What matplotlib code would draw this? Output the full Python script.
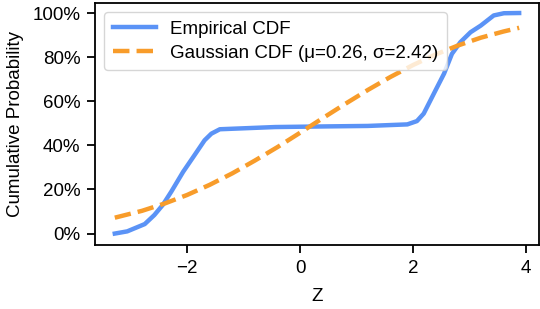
import numpy as np
import matplotlib
matplotlib.use("Agg")
import matplotlib.pyplot as plt
from matplotlib.ticker import PercentFormatter

plt.rcParams['font.family'] = ['Liberation Sans', 'DejaVu Sans']

# empirical CDF
emp_z = [-3.28, -3.06, -2.75, -2.58, -2.43, -2.28, -2.07, -1.87, -1.69, -1.57, -1.42,
         -0.44, 0.5, 1.2, 1.90, 2.07, 2.19, 2.40, 2.55, 2.69, 2.84, 3.02, 3.20,
         3.43, 3.61, 3.88]
emp_p = [0.0, 0.01, 0.043, 0.084, 0.13, 0.19, 0.28, 0.355, 0.423, 0.453, 0.473,
         0.483, 0.486, 0.488, 0.495, 0.51, 0.544, 0.65, 0.725, 0.815, 0.868, 0.913, 0.943,
         0.989, 0.999, 1.0]

# gaussian fit (mu=0.26, sigma=2.42)
gau_z = [-3.28, -2.8, -2.4, -2.0, -1.6, -1.2, -0.8, -0.4, 0.0, 0.4, 0.8, 1.2,
         1.6, 2.0, 2.4, 2.8, 3.2, 3.6, 3.88]
gau_p = [0.072, 0.103, 0.136, 0.175, 0.221, 0.273, 0.331, 0.392, 0.457, 0.523,
         0.588, 0.651, 0.710, 0.764, 0.812, 0.853, 0.888, 0.916, 0.933]

fs = 13.5

fig = plt.figure(figsize=(5.4, 3.09), dpi=100)
ax = fig.add_axes([0.176, 0.207, 0.822, 0.783])

ax.plot(emp_z, emp_p, color='#5b93f6', lw=3.2, label='Empirical CDF')
ax.plot(gau_z, gau_p, color='#f89c2a', lw=3.2, ls='--', label='Gaussian CDF (μ=0.26, σ=2.42)')

ax.set_xlim(-3.63, 4.23)
ax.set_ylim(-0.052, 1.045)
ax.set_xticks([-2, 0, 2, 4])
ax.set_yticks([0, 0.2, 0.4, 0.6, 0.8, 1.0])
ax.yaxis.set_major_formatter(PercentFormatter(1.0, decimals=0))

ax.tick_params(labelsize=fs, length=5.5, width=1.3, pad=5)
for s in ax.spines.values():
    s.set_linewidth(1.3)

ax.set_xlabel('Z', fontsize=fs, labelpad=8)
ax.set_ylabel('Cumulative Probability', fontsize=fs, labelpad=6)
ax.legend(loc='upper left', fontsize=fs, handlelength=2.3, borderpad=0.45,
          labelspacing=0.35, handletextpad=0.75, borderaxespad=0.5)

fig.savefig('out.png', dpi=100)
